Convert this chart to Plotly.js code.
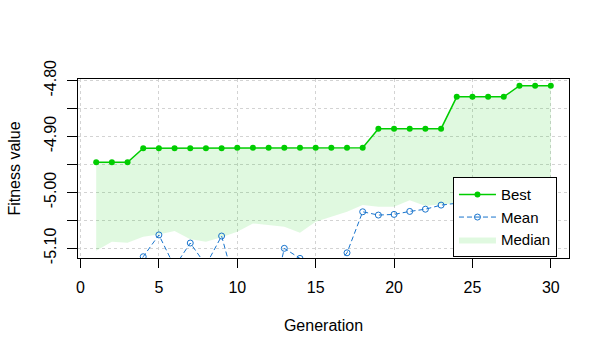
<!DOCTYPE html>
<html>
<head>
<meta charset="utf-8">
<script src="https://cdn.plot.ly/plotly-3.0.1.min.js"></script>
<style>html,body{margin:0;padding:0;background:#fff;}#chart{width:610px;height:356px;}</style>
</head>
<body>
<div id="chart"></div>
<script>
var generation = [1,2,3,4,5,6,7,8,9,10,11,12,13,14,15,16,17,18,19,20,21,22,23,24,25,26,27,28,29,30];
var bestValues = [-4.946,-4.946,-4.946,-4.921,-4.921,-4.921,-4.921,-4.921,-4.921,-4.920,-4.920,-4.920,-4.920,-4.920,-4.920,-4.920,-4.920,-4.920,-4.886,-4.886,-4.886,-4.886,-4.886,-4.829,-4.829,-4.829,-4.829,-4.809,-4.809,-4.809];
var meanValues = [-5.25,-5.20,-5.16,-5.115,-5.076,-5.133,-5.0905,-5.130,-5.078,-5.18,-5.21,-5.222,-5.100,-5.118,-5.17,-5.143,-5.108,-5.0346,-5.0405,-5.0393,-5.034,-5.030,-5.0227,-5.020,-5.016,-5.013,-5.012,-5.005,-5.003,-5.002];
var medianValues = [-5.1043,-5.0882,-5.090,-5.0793,-5.0754,-5.0691,-5.0839,-5.0882,-5.0804,-5.0704,-5.0555,-5.0579,-5.0614,-5.0721,-5.0525,-5.0436,-5.0346,-5.0227,-5.0257,-5.0257,-5.0138,-5.0245,-5.021,-5.020,-5.015,-5.010,-5.005,-5.000,-4.995,-4.990];
var xTickVals = [0,5,10,15,20,25,30];
var yTickVals = [-5.10,-5.05,-5.00,-4.95,-4.90,-4.85,-4.80];
var yTickText = ['-5.10','','-5.00','','-4.90','','-4.80'];

var FONT = '"Liberation Sans", Arial, sans-serif';

var traces = [
  {x: generation, y: bestValues, mode: 'lines', line: {width: 0, color: 'rgba(0,0,0,0)'}, showlegend: false, hoverinfo: 'skip'},
  {x: generation, y: medianValues, mode: 'lines', fill: 'tonexty', fillcolor: 'rgba(0,205,0,0.12)', line: {width: 0, color: 'rgba(0,205,0,0.12)'}, name: 'Median', legendrank: 3},
  {x: generation, y: meanValues, mode: 'lines+markers', name: 'Mean', legendrank: 2,
   line: {color: '#1874CD', width: 1, dash: '5px,3px'},
   marker: {symbol: 'circle-open', size: 6, color: '#1874CD', line: {width: 1, color: '#1874CD'}}},
  {x: generation, y: bestValues, mode: 'lines+markers', name: 'Best', legendrank: 1,
   line: {color: '#00CD00', width: 1.5},
   marker: {symbol: 'circle', size: 6, color: '#00CD00'}}
];

var layout = {
  width: 610, height: 356,
  margin: {l: 78, r: 41, t: 79, b: 98, pad: 0},
  paper_bgcolor: '#ffffff', plot_bgcolor: '#ffffff',
  font: {family: FONT, size: 16, color: '#000000'},
  showlegend: true,
  legend: {x: 0.7637, y: 0.4508, xanchor: 'left', yanchor: 'top', bgcolor: '#ffffff', bordercolor: '#000000', borderwidth: 1,
           font: {family: FONT, size: 15, color: '#000000'}, tracegroupgap: 0, traceorder: 'normal',
           itemwidth: 37, entrywidth: 60},
  xaxis: {
    range: [-0.16, 31.16], tickmode: 'array', tickvals: xTickVals, ticktext: xTickVals.map(String),
    ticks: 'outside', ticklen: 9, tickcolor: '#000', tickwidth: 1, ticklabelstandoff: 6,
    showline: true, mirror: true, linecolor: '#000', linewidth: 1,
    showgrid: true, gridcolor: '#d3d3d3', griddash: '3px,3px', gridwidth: 1, zeroline: false,
    tickfont: {family: FONT, size: 16, color: '#000'},
    title: {text: 'Generation', font: {family: FONT, size: 16, color: '#000'}, standoff: 24}
  },
  yaxis: {
    range: [-5.1173, -4.7971], tickmode: 'array', tickvals: yTickVals, ticktext: yTickText, tickangle: -90,
    ticks: 'outside', ticklen: 10, tickcolor: '#000', tickwidth: 1, ticklabelstandoff: 5,
    showline: true, mirror: true, linecolor: '#000', linewidth: 1,
    showgrid: true, gridcolor: '#d3d3d3', griddash: '3px,3px', gridwidth: 1, zeroline: false,
    tickfont: {family: FONT, size: 16, color: '#000'},
    title: {text: 'Fitness value', font: {family: FONT, size: 16, color: '#000'}, standoff: 16}
  }
};

Plotly.newPlot('chart', traces, layout, {displayModeBar: false, staticPlot: true});
</script>
</body>
</html>
